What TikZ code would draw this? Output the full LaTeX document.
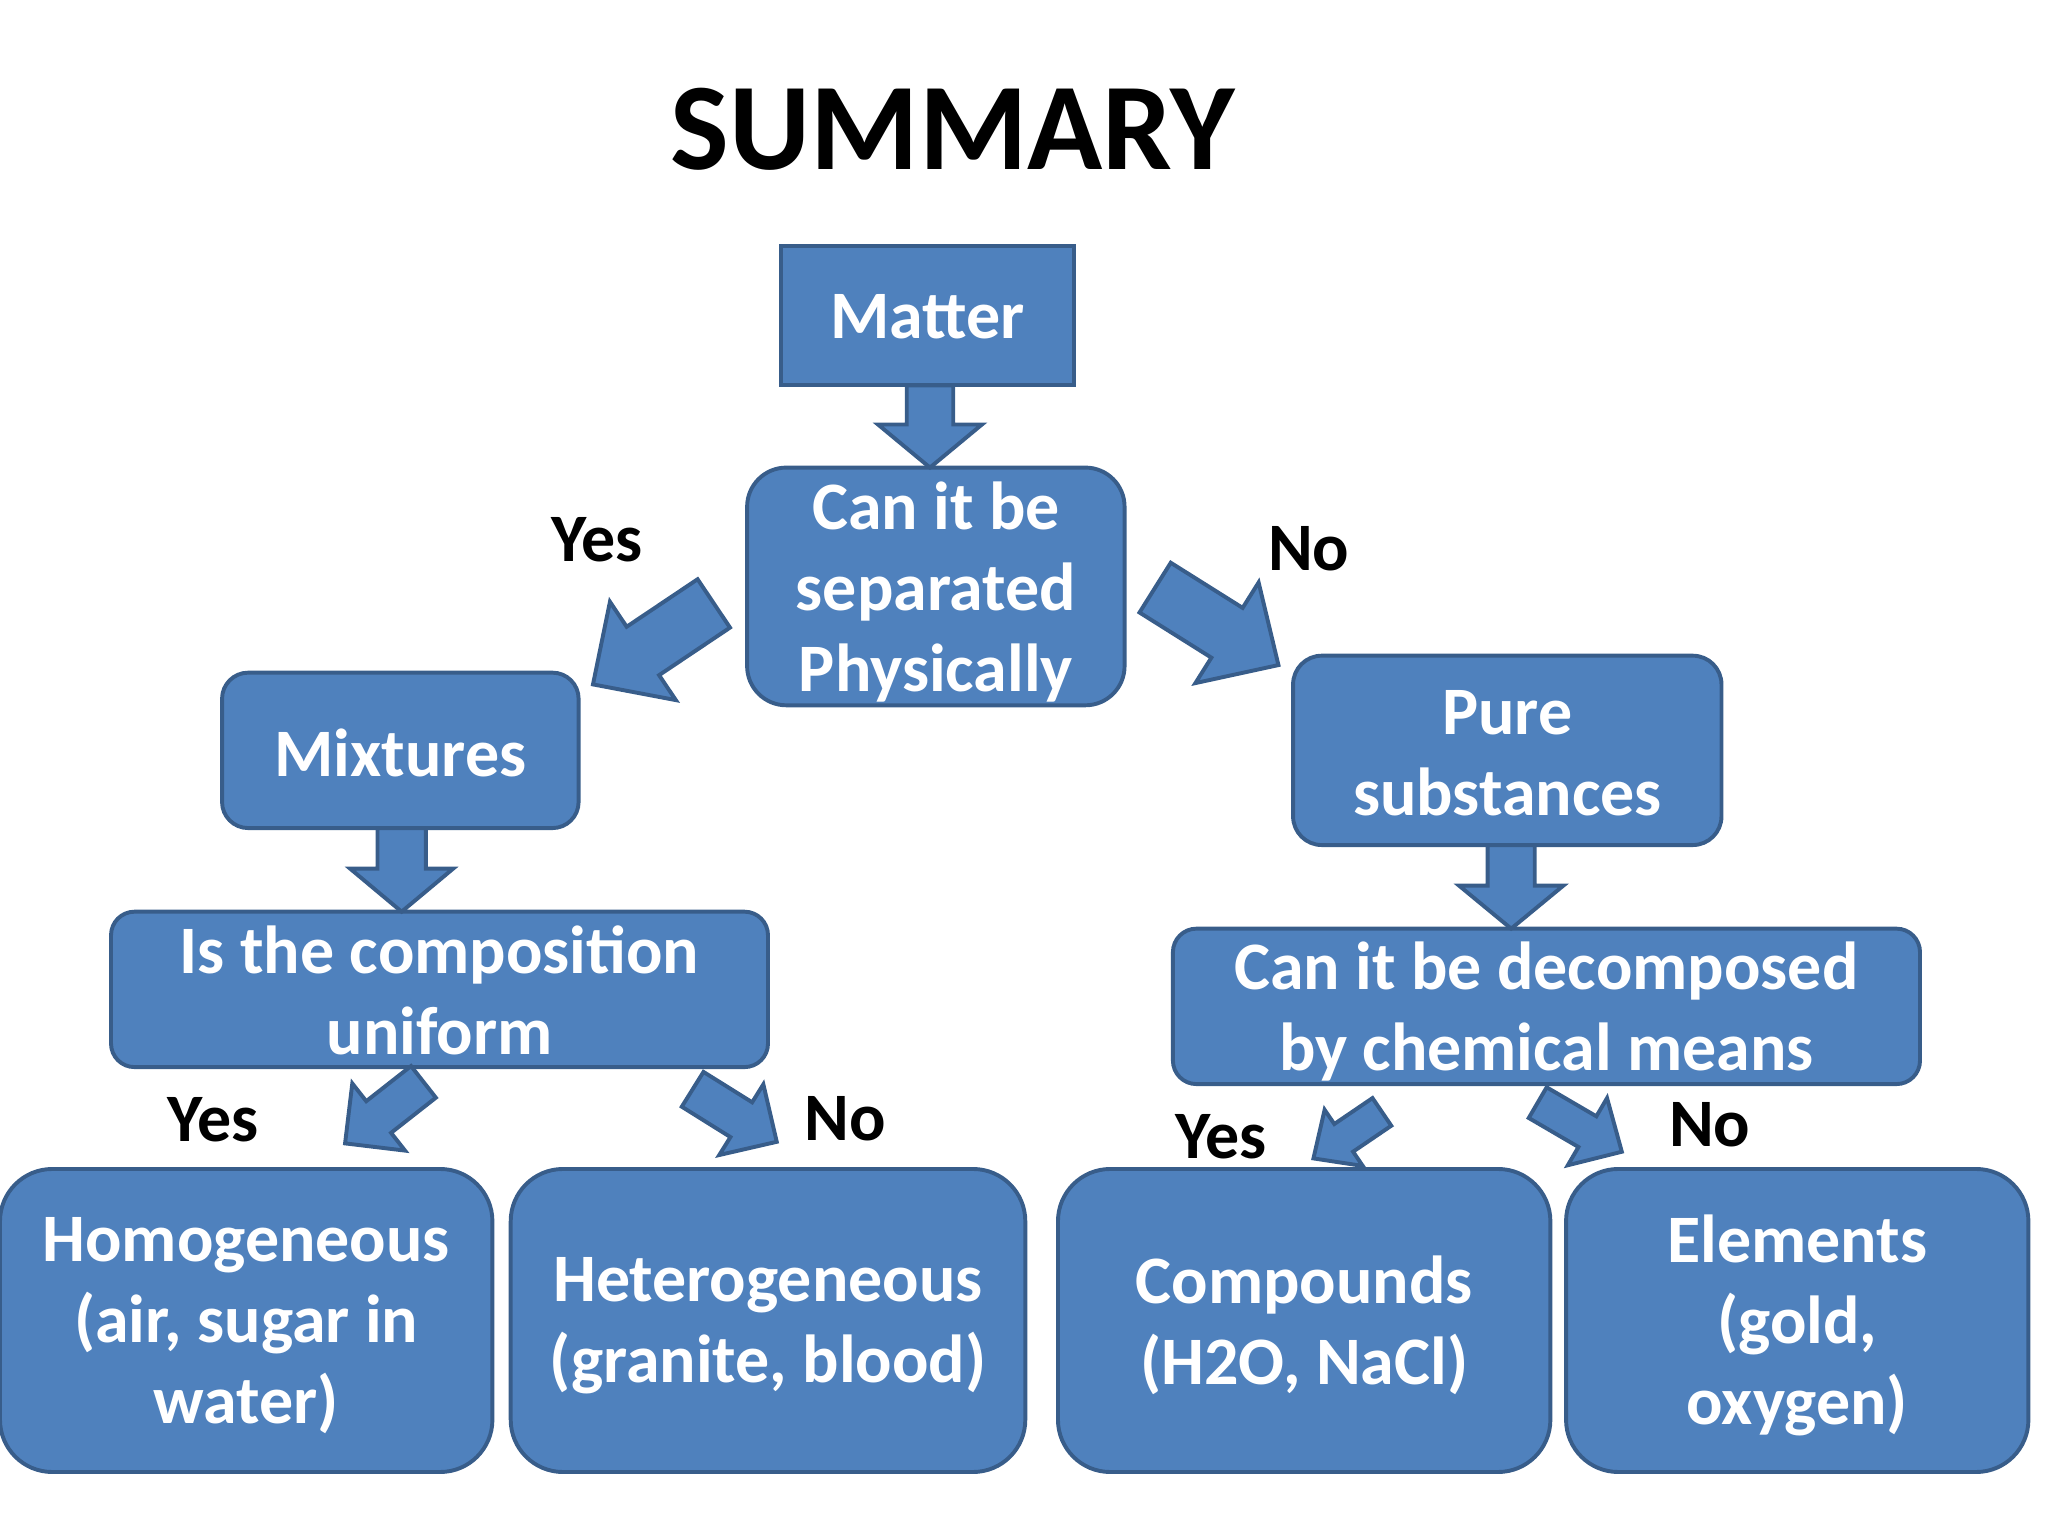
\documentclass[tikz,border=0pt]{standalone}
\usepackage{fontspec}
\setmainfont{Carlito}
\usetikzlibrary{calc}
\definecolor{boxfill}{HTML}{4F81BD}
\definecolor{boxline}{HTML}{385D8A}
\tikzset{
  box/.style={draw=boxline, fill=boxfill, line width=1.5pt, inner sep=0pt},
  btxt/.style={inner sep=0pt, align=center, text=white, font=\fontsize{26}{31}\selectfont\bfseries},
  barrow/.style={draw=boxline, fill=boxfill, line width=1.5pt, line join=miter},
  lbl/.style={anchor=base, inner sep=0pt, font=\fontsize{26}{31}\selectfont\bfseries},
}
% #1 tail, #2 tip, #3 half shaft width, #4 half head width, #5 head length
\newcommand\blockarrow[5]{%
  \coordinate (ba-h) at ($(#2)!#5!(#1)$);
  \draw[barrow] ($(#1)!#3!90:(#2)$) -- ($(ba-h)!#3!-90:(#1)$) -- ($(ba-h)!#4!-90:(#1)$)
    -- (#2) -- ($(ba-h)!#4!90:(#1)$) -- ($(ba-h)!#3!90:(#1)$) -- ($(#1)!#3!-90:(#2)$) -- cycle;
}
\begin{document}
\begin{tikzpicture}[x=0.5pt,y=-0.5pt]
\useasboundingbox (0,0) rectangle (1568,1176);

\node[anchor=base, inner sep=0pt, font=\fontsize{47.5}{57}\selectfont\bfseries] (title) at (729.5,130) {SUMMARY};

\node[box, minimum width=112pt, minimum height=53.5pt] (matter) at (710,241.5) {};
\node[box, rounded corners=15pt, minimum width=144.5pt, minimum height=91pt] (can) at (716.5,449) {};
\node[box, rounded corners=10pt, minimum width=136.5pt, minimum height=59.5pt] (mix) at (306.5,574.5) {};
\node[box, rounded corners=11pt, minimum width=164pt, minimum height=72.5pt] (pure) at (1154,574.5) {};
\node[box, rounded corners=9pt, minimum width=251.5pt, minimum height=59.5pt] (isc) at (336.5,757.5) {};
\node[box, rounded corners=9pt, minimum width=286pt, minimum height=59.5pt] (dec) at (1184,770.5) {};
\node[box, rounded corners=20pt, minimum width=188.5pt, minimum height=116pt] (hom) at (188.5,1011) {};
\node[box, rounded corners=20pt, minimum width=197pt, minimum height=116pt] (het) at (588,1011) {};
\node[box, rounded corners=20pt, minimum width=188.5pt, minimum height=116pt] (cmp) at (998.5,1011) {};
\node[box, rounded corners=20pt, minimum width=177pt, minimum height=116pt] (ele) at (1376,1011) {};

\node[btxt] (matter-t) at ([yshift=-0.5pt]matter.center) {Matter};
\node[btxt] (can-t) at ([yshift=-2pt]can.center) {Can it be\\separated\\Physically};
\node[btxt] (mix-t) at ([yshift=-1pt]mix.center) {Mixtures};
\node[btxt] (pure-t) at ([yshift=-1pt]pure.center) {Pure\\substances};
\node[btxt] (isc-t) at ([yshift=-0.5pt]isc.center) {Is the composition\\uniform};
\node[btxt] (dec-t) at ([yshift=-2pt]dec.center) {Can it be decomposed\\by chemical means};
\node[btxt] (hom-t) at ([yshift=-2pt]hom.center) {Homogeneous\\(air, sugar in\\water)};
\node[btxt] (het-t) at ([yshift=-2pt]het.center) {Heterogeneous\\(granite, blood)};
\node[btxt] (cmp-t) at ([yshift=-2pt]cmp.center) {Compounds\\(H2O, NaCl)};
\node[btxt] (ele-t) at ([yshift=-2pt]ele.center) {Elements\\(gold,\\oxygen)};

\node[lbl] (y1) at (457,430) {Yes};
\node[lbl] (n1) at (1002,437) {No};
\node[lbl] (y2) at (163,874) {Yes};
\node[lbl] (n2) at (647,873) {No};
\node[lbl] (y3) at (935,887) {Yes};
\node[lbl] (n3) at (1309,878) {No};

\coordinate (a1t) at (712,295);   \coordinate (a1p) at (712,358);
\coordinate (a2t) at (307.5,634); \coordinate (a2p) at (307.5,698);
\coordinate (a3t) at (1157,647);  \coordinate (a3p) at (1157,711);
\coordinate (a4t) at (546.5,462); \coordinate (a4p) at (454,524);
\coordinate (a5t) at (884.4,449.9); \coordinate (a5p) at (978.8,509.2);
\coordinate (a6t) at (324.2,828.3); \coordinate (a6p) at (264.2,875.4);
\coordinate (a7t) at (530.3,834); \coordinate (a7p) at (594.7,874.2);
\coordinate (a8t) at (1058,851.3); \coordinate (a8p) at (1005.6,886.9);
\coordinate (a9t) at (1177.3,844.2); \coordinate (a9p) at (1241.7,881.8);

\blockarrow{a1t}{a1p}{8.9pt}{19.9pt}{16.5pt}
\blockarrow{a2t}{a2p}{9.25pt}{19.75pt}{16.5pt}
\blockarrow{a3t}{a3p}{9pt}{20pt}{16.5pt}
\blockarrow{a4t}{a4p}{11.15pt}{22.65pt}{23pt}
\blockarrow{a5t}{a5p}{11.25pt}{22.75pt}{23.25pt}
\blockarrow{a6t}{a6p}{7.7pt}{16.35pt}{16.35pt}
\blockarrow{a7t}{a7p}{7.85pt}{15.95pt}{16pt}
\blockarrow{a8t}{a8p}{6.4pt}{13pt}{14pt}
\blockarrow{a9t}{a9p}{6.8pt}{14.9pt}{15.25pt}
\end{tikzpicture}
\end{document}
